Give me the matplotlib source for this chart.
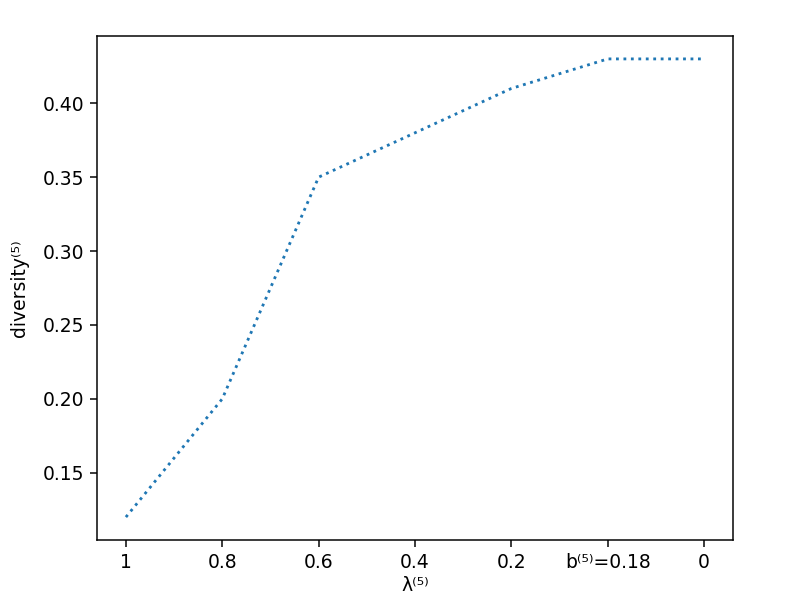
import matplotlib
matplotlib.use('Agg')
import matplotlib.pyplot as plt

# lambda values as shown on the x axis (evenly spaced categories)
lambda_labels = ['1', '0.8', '0.6', '0.4', '0.2', 'b\u207d\u2075\u207e=0.18', '0']
diversity = [0.12, 0.20, 0.35, 0.38, 0.41, 0.43, 0.43]

dpi = 135
fig = plt.figure(figsize=(794 / dpi, 610 / dpi), dpi=dpi)
ax = fig.add_axes([97 / 794, 1 - 540 / 610, (733 - 97) / 794, (540 - 36) / 610])

positions = list(range(len(lambda_labels)))
ax.plot(positions, diversity, linestyle=':')
ax.set_xticks(positions)
ax.set_xticklabels(lambda_labels)
ax.set_xlabel('\u03bb\u207d\u2075\u207e', labelpad=2)
ax.set_ylabel('diversity\u207d\u2075\u207e', labelpad=7)

fig.savefig('out.png', dpi=dpi)
plt.close(fig)
